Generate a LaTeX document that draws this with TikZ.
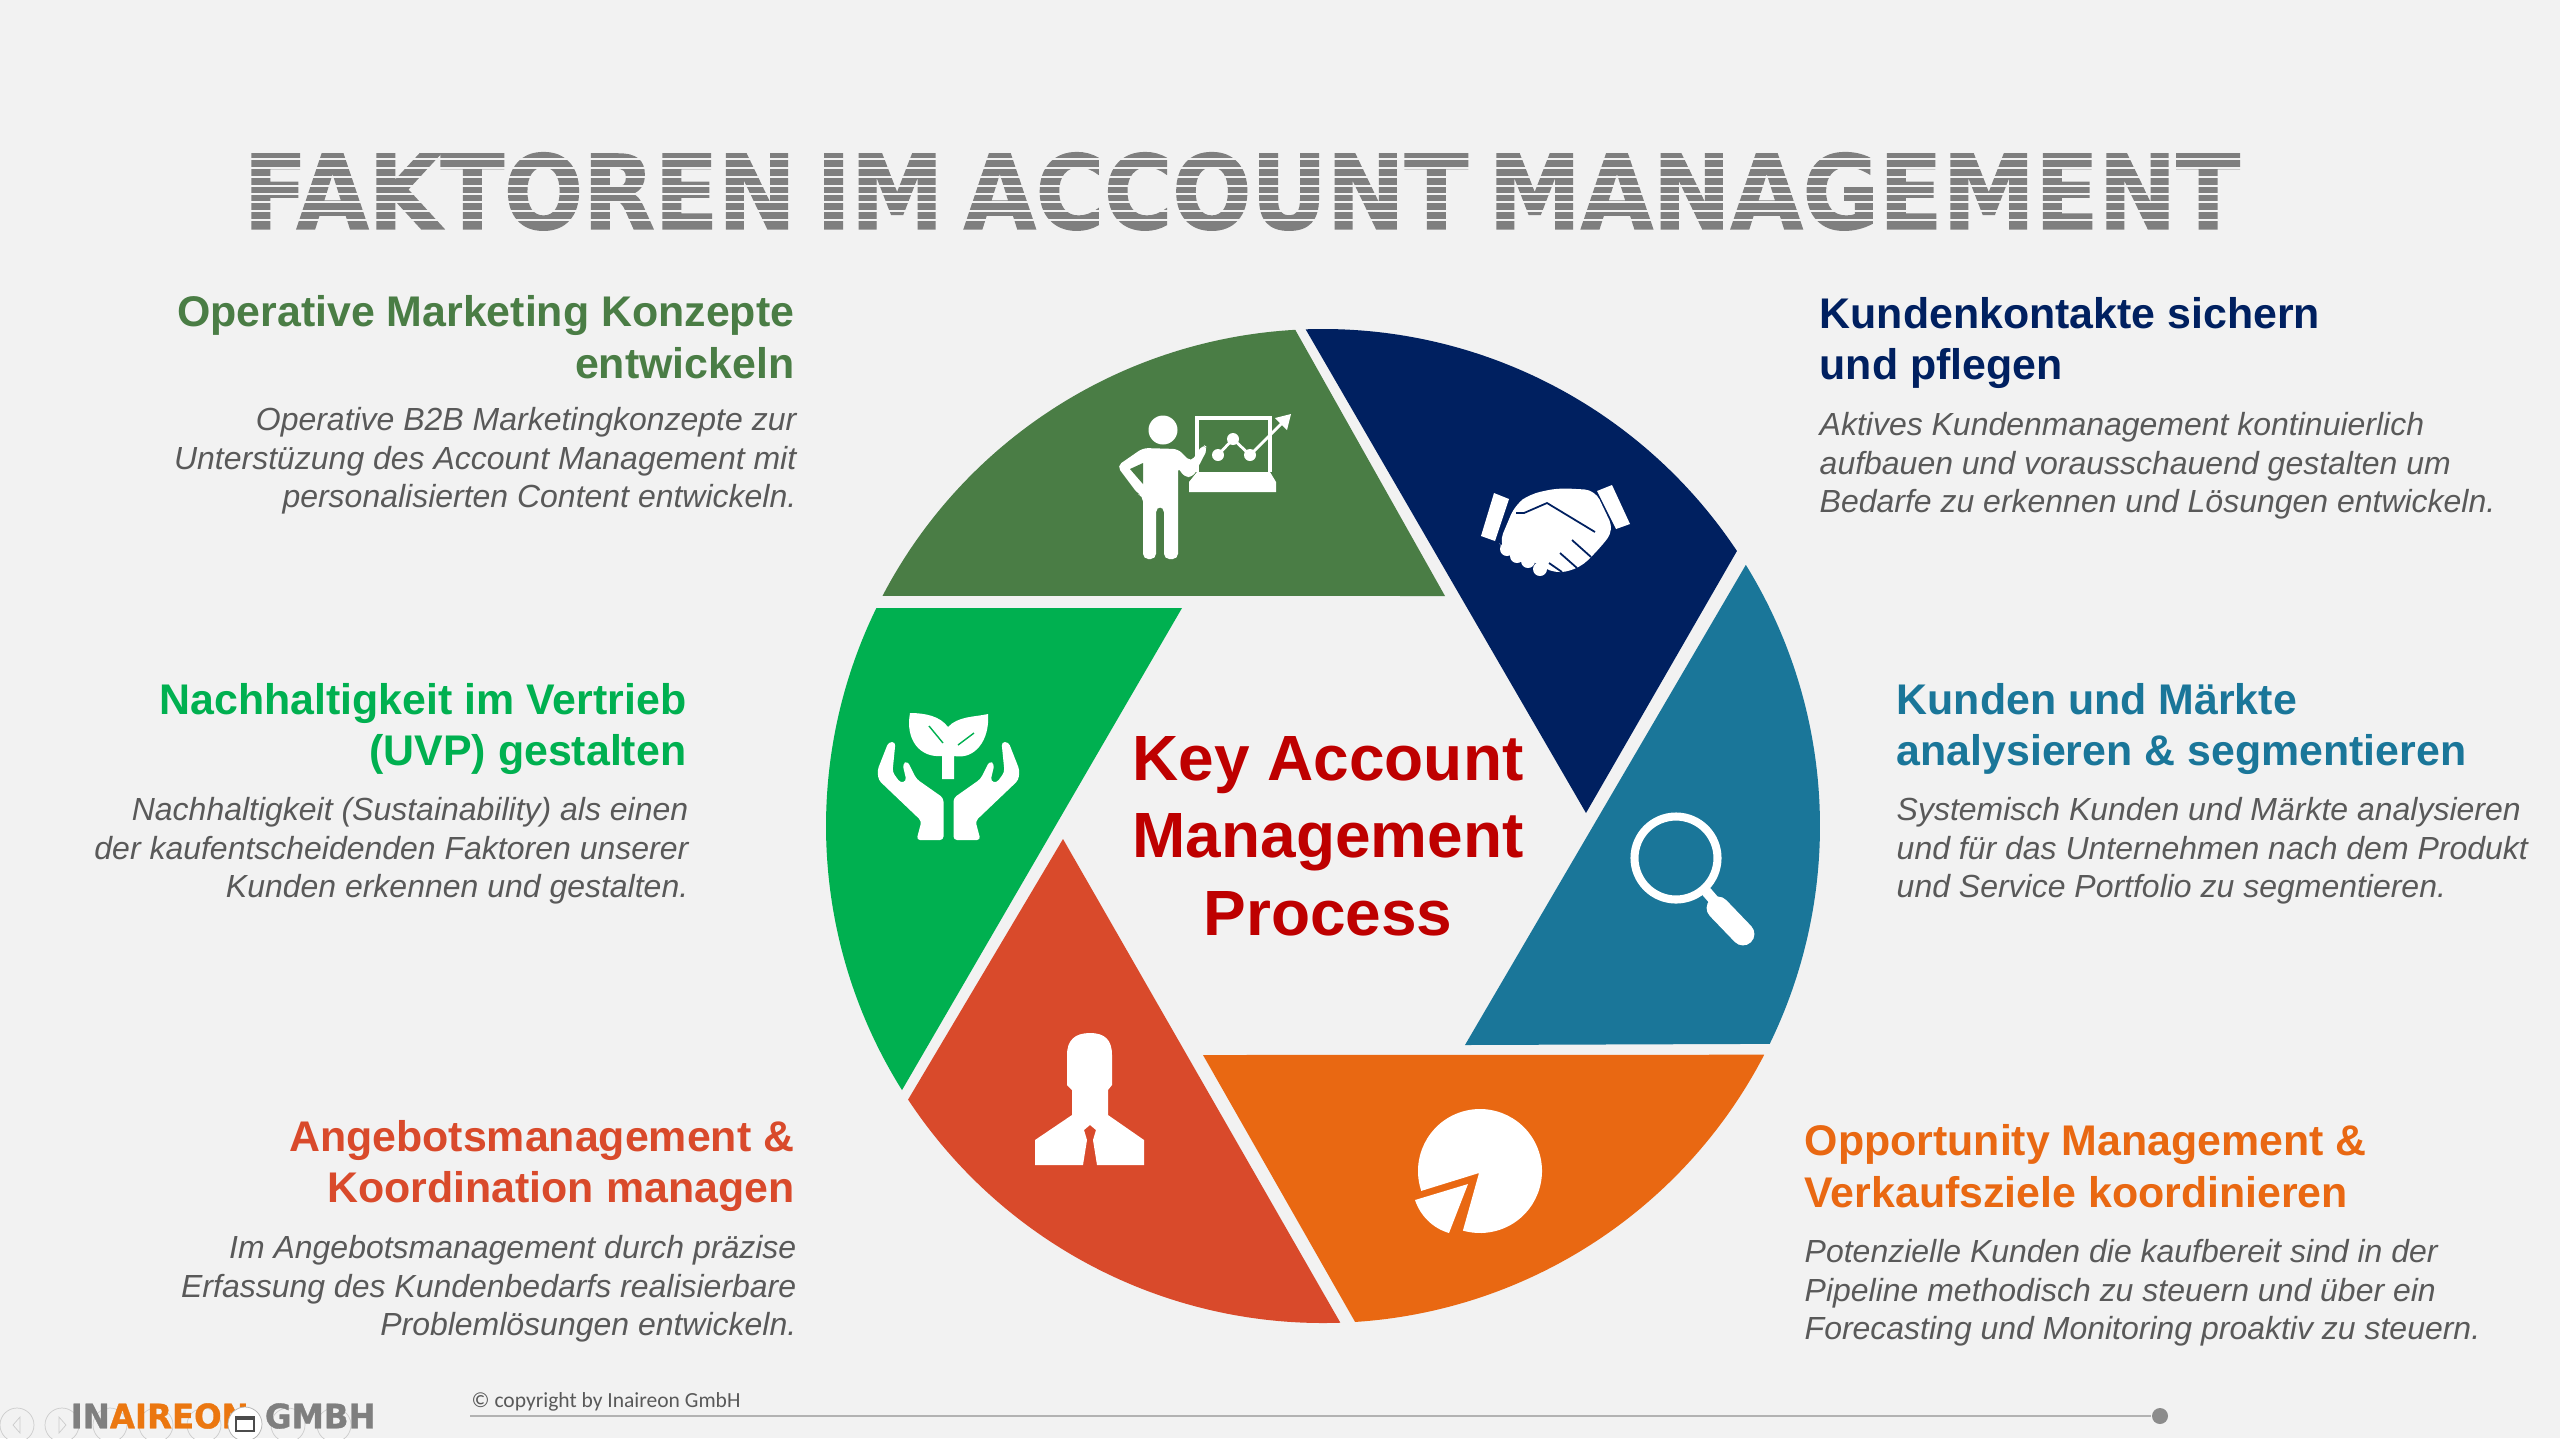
\documentclass[tikz,border=0pt]{standalone}
\usepackage{fontspec}
\usepackage{graphicx}
\setmainfont{Liberation Sans}
\newfontfamily\titlefont{DejaVu Sans}[BoldFeatures={FakeBold=1.6}]
\newfontfamily\logofont{DejaVu Sans}[BoldFeatures={FakeBold=1}]
\newfontfamily\footfont{Carlito}
\definecolor{bgc}{HTML}{F2F2F2}
\definecolor{cgreen}{HTML}{4A7D45}
\definecolor{cnavy}{HTML}{002060}
\definecolor{cteal}{HTML}{1A7699}
\definecolor{corange}{HTML}{E96812}
\definecolor{cred}{HTML}{D94A2B}
\definecolor{clime}{HTML}{00B050}
\definecolor{ckey}{HTML}{BE0000}
\definecolor{cbody}{HTML}{595959}
\definecolor{ctitle}{HTML}{7F7F7F}
\tikzstyle{hdl} = [anchor=west,align=left,inner sep=0pt,font=\fontsize{12.2}{14.7}\selectfont\bfseries]
\tikzstyle{hdr} = [anchor=east,align=right,inner sep=0pt,font=\fontsize{12.2}{14.7}\selectfont\bfseries]
\tikzstyle{txtl} = [anchor=west,align=left,inner sep=0pt,text=cbody,font=\fontsize{9.1}{11}\selectfont\itshape]
\tikzstyle{txtr} = [anchor=east,align=right,inner sep=0pt,text=cbody,font=\fontsize{9.1}{11}\selectfont\itshape]
\begin{document}
\begin{tikzpicture}
        [
            x=0.1mm,y=-0.1mm,
            icon/.style={fill=white,draw=none},
            ctrl/.style={draw=black!20,line width=0.2pt},
        ]
    \useasboundingbox[fill=bgc] (0,0) rectangle (2560,1438);

    % title
    \node[inner sep=0pt,text=ctitle,anchor=north west] (title) at (243,152)
        {\resizebox{19.96cm}{0.76cm}{\titlefont\bfseries\spaceskip=0.22em FAKTOREN IM ACCOUNT MANAGEMENT}};
    \foreach \yy in {159,168,177,186,194,202,211,220}
        \draw[bgc,line width=0.45pt] (240,\yy) -- (2250,\yy);

    % ring
    \coordinate (c) at (1323,826);
    \foreach \ix/\iy/\a/\b/\col in {1445/596/152.4/93.2/cgreen,1586/813/92/33.6/cnavy,1465/1045/31.7/-26/cteal,1203/1055/-27.4/-86.3/corange,1063/839/-88/-146.6/cred,1182/608/-147.9/-206/clime}
        \fill[\col] (\ix,\iy) -- ([shift={(c)}]\a:4.97cm) arc[start angle=\a,end angle=\b,radius=4.97cm] -- cycle;

    \node[align=center,inner sep=0pt,text=ckey,font=\fontsize{18.2}{22}\selectfont\bfseries] (key) at (1328,836)
        {Key Account\\Management\\Process};

    % teacher
    \fill[icon] (1163,430) circle[radius=14.5];
    \fill[icon,rounded corners=1.5pt] (1117,466) -- (1143,448) -- (1178,449) -- (1191,462) -- (1203,444) -- (1208,448) -- (1193,477) -- (1184,477) -- (1178,467) -- (1178,559) -- (1164,559) -- (1164,507) -- (1156,507) -- (1156,559) -- (1143,559) -- (1143,496) -- (1138,494) -- cycle;
    \fill[cgreen] (1143,463) -- (1130,469) -- (1143,484) -- cycle;
    \draw[white,line width=1.1pt] (1197,472) -- (1197,418) -- (1270,418) -- (1270,472);
    \fill[icon] (1197,472) -- (1270,472) -- (1276,482) -- (1276,492) -- (1189,492) -- (1189,482) -- cycle;
    \draw[white,line width=0.8pt] (1218,455) -- (1233,439) -- (1250,455) -- (1285,420);
    \foreach \px/\py in {1218/455,1233/439,1250/455}
        \fill[icon] (\px,\py) circle[radius=6];
    \fill[icon] (1291,414) -- (1275,418) -- (1287,430) -- cycle;

    % handshake
    \fill[icon] (1494,493) -- (1509,499) -- (1495,541) -- (1481,536) -- cycle;
    \fill[icon] (1612,485) -- (1630,524) -- (1616,529) -- (1597,491) -- cycle;
    \fill[icon,rounded corners=3pt] (1515,505) -- (1530,494) -- (1558,488) -- (1595,490) -- (1614,530) -- (1600,548) -- (1580,568) -- (1555,574) -- (1535,562) -- (1505,552) -- (1499,543) -- cycle;
    \foreach \px/\py in {1507/549,1517/556,1528/561,1540/569}
        \fill[icon] (\px,\py) circle[radius=7];
    \draw[cnavy,line width=0.5pt] (1516,513) -- (1524,513) -- (1547,503) -- (1595,532);
    \draw[cnavy,line width=0.5pt] (1572,540) -- (1591,557) (1560,553) -- (1577,568) (1549,563) -- (1562,572);

    % magnifier
    \draw[white,line width=2.3pt] (1676,858) circle[radius=41.5];
    \draw[white,line width=3pt] (1705,890) -- (1718,905);
    \draw[white,line width=6.5pt,line cap=round] (1718,908) -- (1743,934);

    % pie
    \fill[icon] (1479,1173) -- ([shift={(1480,1171)}]198.7:0.62cm) arc[start angle=198.7,end angle=-106,radius=0.62cm] -- cycle;
    \fill[icon] (1468,1184) -- (1415,1200) .. controls (1420,1215) and (1432,1228) .. (1449,1233) -- cycle;

    % person
    \fill[icon] (1035,1165) -- (1035,1140) -- (1072,1115) -- (1072,1090) -- (1067,1085) -- (1067,1055) .. controls (1067,1040) and (1075,1033) .. (1090,1033) .. controls (1105,1033) and (1112,1040) .. (1112,1055) -- (1112,1085) -- (1108,1090) -- (1108,1115) -- (1144,1140) -- (1144,1165) -- (1097,1165) -- (1093,1140) -- (1096,1130) -- (1090,1125) -- (1084,1130) -- (1087,1140) -- (1083,1165) -- cycle;

    % hands with plant
    \foreach \s in {1,-1}
        \fill[icon,shift={(948.5,0)},xscale=\s,rounded corners=1pt] (-32,840) -- (-27,821) -- (-70,780) -- (-71,770) -- (-60,742) -- (-53,742) -- (-56,772) -- (-48,783) -- (-42,781) -- (-46,764) -- (-41,761) -- (-32,779) -- (-5,798) -- (-5,840) -- cycle;
    \fill[icon] (942,779) -- (942,756) .. controls (920,758) and (905,740) .. (910,713) .. controls (925,713) and (940,716) .. (948,727) .. controls (958,716) and (975,717) .. (988,714) .. controls (990,740) and (975,760) .. (954,756) -- (954,779) -- cycle;
    \draw[clime,line width=0.4pt] (929,726) -- (943,743) (974,733) -- (958,745);

    % left column
    \node[hdr,text=cgreen] (h1) at (795,337) {Operative Marketing Konzepte\\entwickeln};
    \node[txtr] (t1) at (797,461) {Operative B2B Marketingkonzepte zur\\Unterstüzung des Account Management mit\\personalisierten Content entwickeln.};
    \node[hdr,text=clime] (h6) at (687,729) {Nachhaltigkeit im Vertrieb\\(UVP) gestalten};
    \node[txtr] (t6) at (689,851) {Nachhaltigkeit (Sustainability) als einen\\der kaufentscheidenden Faktoren unserer\\Kunden erkennen und gestalten.};
    \node[hdr,text=cred] (h5) at (795,1166) {Angebotsmanagement \&\\Koordination managen};
    \node[txtr] (t5) at (797,1289) {Im Angebotsmanagement durch präzise\\Erfassung des Kundenbedarfs realisierbare\\Problemlösungen entwickeln.};

    % right column
    \node[hdl,text=cnavy] (h2) at (1819,343) {Kundenkontakte sichern\\und pflegen};
    \node[txtl] (t2) at (1819,466) {Aktives Kundenmanagement kontinuierlich\\aufbauen und vorausschauend gestalten um\\Bedarfe zu erkennen und Lösungen entwickeln.};
    \node[hdl,text=cteal] (h3) at (1896,729) {Kunden und Märkte\\analysieren \& segmentieren};
    \node[txtl] (t3) at (1896,851) {Systemisch Kunden und Märkte analysieren\\und für das Unternehmen nach dem Produkt\\und Service Portfolio zu segmentieren.};
    \node[hdl,text=corange] (h4) at (1804,1166) {Opportunity Management \&\\Verkaufsziele koordinieren};
    \node[txtl] (t4) at (1804,1293) {Potenzielle Kunden die kaufbereit sind in der\\Pipeline methodisch zu steuern und über ein\\Forecasting und Monitoring proaktiv zu steuern.};

    % footer
    \foreach \cx in {17,62,110,156,204,288,334}
        \draw[ctrl] (\cx,1425) circle[radius=17];
    \draw[ctrl] (20,1417) -- (13,1425) -- (20,1433) -- cycle;
    \draw[ctrl] (59,1417) -- (66,1425) -- (59,1433) -- cycle;
    \node[inner sep=0pt,anchor=west] (logo) at (70,1416)
        {\resizebox{3.05cm}{0.25cm}{\logofont\bfseries\textcolor{ctitle}{IN}\textcolor{corange!90!yellow}{AIREON}\hspace{5pt}\textcolor{ctitle}{GMBH}}};
    \draw[fill=white,draw=black!30,line width=0.2pt] (245,1424) circle[radius=17];
    \draw[black!70,fill=white,line width=0.3pt] (236,1417) rectangle (254,1431);
    \fill[black!70] (236,1417) rectangle (254,1420);
    \node[inner sep=0pt,anchor=west,text=cbody,font=\footfont\fontsize{6.13}{8}\selectfont] (copy) at (471,1402) {© copyright by Inaireon GmbH};
    \node[circle,fill=black!45,inner sep=0pt,minimum size=1.6mm] (dot) at (2160,1416) {};
    \draw[black!30,line width=0.6pt] (470,1416) -- (dot);
\end{tikzpicture}
\end{document}
